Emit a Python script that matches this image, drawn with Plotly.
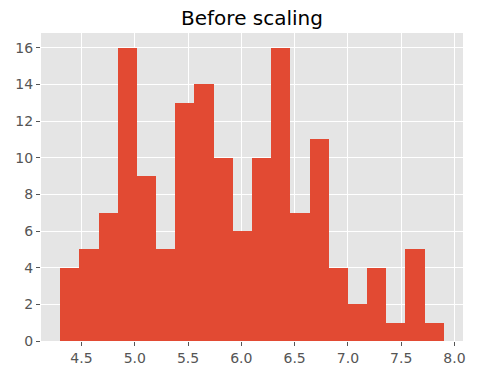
import plotly.graph_objects as go

counts = [4, 5, 7, 16, 9, 5, 13, 14, 10, 6, 10, 16, 7, 11, 4, 2, 4, 1, 5, 1]
x_min = 4.3
x_max = 7.9
n_bins = len(counts)
width = (x_max - x_min) / n_bins
centers = [x_min + width * (i + 0.5) for i in range(n_bins)]
xticks = [4.5, 5.0, 5.5, 6.0, 6.5, 7.0, 7.5, 8.0]
yticks = list(range(0, 17, 2))

fig = go.Figure(go.Bar(x=centers, y=counts, width=width,
                       marker=dict(color="#E24A33", line=dict(width=0))))

span = x_max - x_min
fig.update_layout(
    width=479, height=377,
    margin=dict(l=41, r=16, t=33, b=36),
    paper_bgcolor="white", plot_bgcolor="#E5E5E5",
    font=dict(family="DejaVu Sans", color="#555555", size=14),
    title=dict(text="Before scaling", x=0.5, xref="paper", xanchor="center",
               y=0.952, yanchor="middle",
               font=dict(family="DejaVu Sans", size=20, color="black")),
    showlegend=False, bargap=0,
)
fig.update_xaxes(range=[x_min - 0.05 * span, x_max + 0.05 * span],
                 tickvals=xticks, ticktext=[f"{v:.1f}" for v in xticks],
                 showgrid=True, gridcolor="white", gridwidth=1,
                 ticks="outside", ticklen=4, tickcolor="#555555", zeroline=False,
                 showline=False)
fig.update_yaxes(range=[0, max(counts) * 1.05], tickvals=yticks,
                 showgrid=True, gridcolor="white", gridwidth=1,
                 ticks="outside", ticklen=4, tickcolor="#555555", zeroline=False,
                 showline=False)
fig.write_html("out.html")
